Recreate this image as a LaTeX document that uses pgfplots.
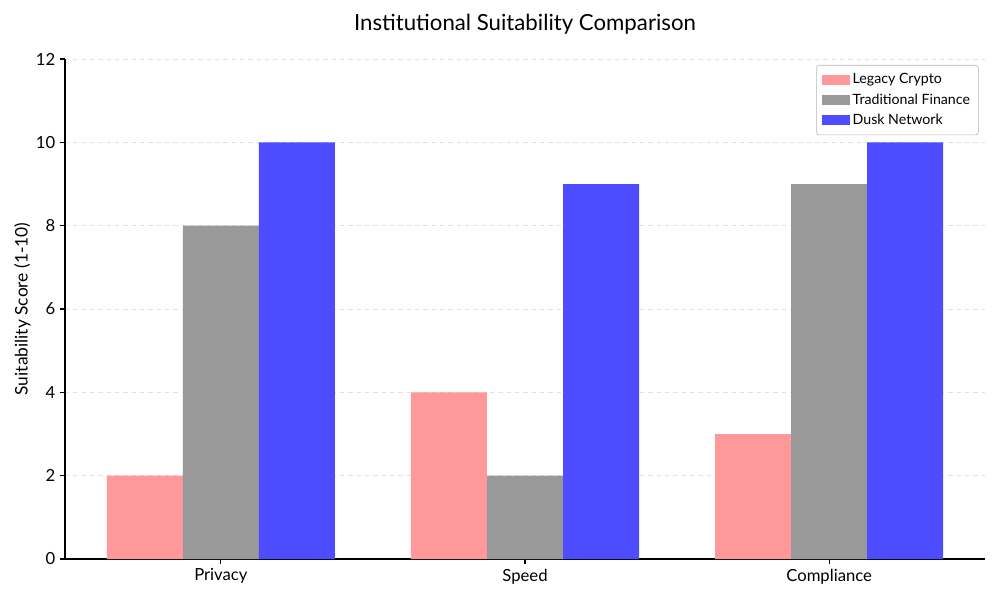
\documentclass[border=0pt]{standalone}
\usepackage{pgfplots}
\pgfplotsset{compat=1.18}
\usepackage{fontspec}
\setmainfont{Lato}
\definecolor{cLegacy}{RGB}{255,153,153}
\definecolor{cTrad}{RGB}{153,153,153}
\definecolor{cDusk}{RGB}{77,77,255}
\definecolor{gridc}{RGB}{225,225,225}
\begin{document}
\begin{tikzpicture}[x=1pt,y=1pt]
\begin{axis}[
  scale only axis,
  width=662.4pt, height=360pt,
  ybar, bar width=0.25,
  xmin=-0.5125, xmax=2.5125,
  ymin=0, ymax=12,
  ytick={0,2,...,12},
  xtick={0,1,2},
  xticklabels={Privacy,Speed,Compliance},
  axis lines*=left,
  axis line style={black, line width=0.8pt},
  tick style={black, line width=0.8pt},
  tick align=outside,
  major tick length=3.5pt,
  ymajorgrids, grid style={gridc, dashed, line width=0.6pt},
  xmajorgrids=false,
  /pgf/number format/assume math mode=true,
  tick label style={font=\fontsize{12}{14}\selectfont},
  ylabel={Suitability Score (1-10)},
  ylabel style={font=\fontsize{12.5}{14}\selectfont, yshift=-3pt},
  title={Institutional Suitability Comparison},
  title style={font=\fontsize{16}{18}\selectfont, yshift=8pt},
  legend style={at={(0.993,0.988)}, anchor=north east, draw=gridc!80!black, rounded corners=2pt,
    font=\fontsize{10.2}{12}\selectfont, inner xsep=4pt, inner ysep=4pt, row sep=1.6pt, cells={anchor=west}},
  legend image code/.code={\fill[#1, sharp corners] (0pt,-3.6pt) rectangle (20pt,3.6pt);},
  every axis plot/.append style={draw=none},
]
\addplot[fill=cLegacy, bar shift=-0.25] coordinates {(0,2) (1,4) (2,3)};
\addplot[fill=cTrad, bar shift=0] coordinates {(0,8) (1,2) (2,9)};
\addplot[fill=cDusk, bar shift=0.25] coordinates {(0,10) (1,9) (2,10)};
\legend{Legacy Crypto,Traditional Finance,Dusk Network}
\end{axis}
\path (current axis.south west) ++(-46.8pt,-29.52pt) coordinate (bl);
\path (current axis.north east) ++(10.8pt,42.48pt) coordinate (tr);
\path (bl) rectangle (tr);
\end{tikzpicture}
\end{document}
